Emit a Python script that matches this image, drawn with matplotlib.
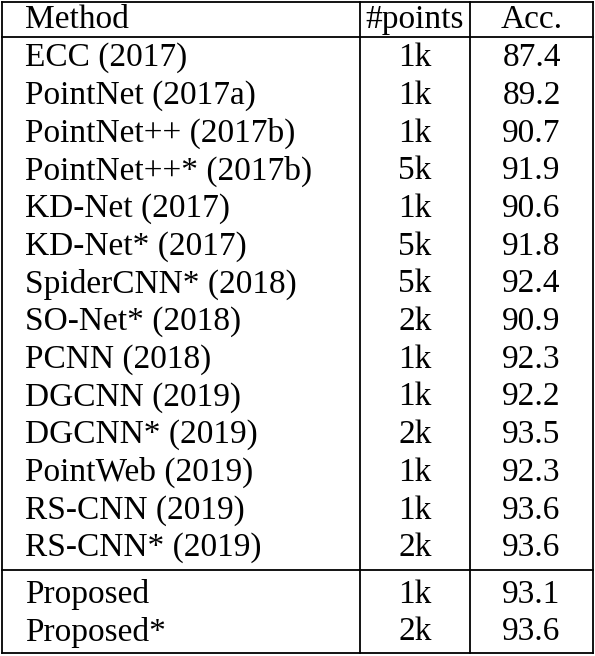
import matplotlib
matplotlib.use("Agg")
import matplotlib.pyplot as plt

methods = ["ECC (2017)", "PointNet (2017a)", "PointNet++ (2017b)", "PointNet++* (2017b)",
           "KD-Net (2017)", "KD-Net* (2017)", "SpiderCNN* (2018)", "SO-Net* (2018)",
           "PCNN (2018)", "DGCNN (2019)", "DGCNN* (2019)", "PointWeb (2019)",
           "RS-CNN (2019)", "RS-CNN* (2019)", "Proposed", "Proposed*"]
points = ["1k", "1k", "1k", "5k", "1k", "5k", "5k", "2k", "1k", "1k", "2k", "1k", "1k", "2k", "1k", "2k"]
acc = ["87.4", "89.2", "90.7", "91.9", "90.6", "91.8", "92.4", "90.9", "92.3", "92.2", "93.5",
       "92.3", "93.6", "93.6", "93.1", "93.6"]
headers = ["Method", "#points", "Acc."]

fig = plt.figure(figsize=(5.95, 6.56), dpi=100)
ax = fig.add_axes([0, 0, 1, 1])
ax.set_xlim(0, 595); ax.set_ylim(656, 0); ax.axis("off")
font = dict(family="Liberation Serif", fontsize=24, color="black", va="center")

xl, x1, x2, xr = 2, 360, 470, 593
ytop, yhead, ysep, ybot = 2, 37, 570, 653
lw = 1.3
for y in (ytop, yhead, ysep, ybot):
    ax.plot([xl, xr], [y, y], color="black", lw=lw)
for x in (xl, x1, x2, xr):
    ax.plot([x, x], [ytop, ybot], color="black", lw=lw)

ax.text(25, 20, headers[0], ha="left", **font)
ax.text((x1 + x2) / 2, 20, headers[1], ha="center", **font)
ax.text((x2 + xr) / 2, 20, headers[2], ha="center", **font)

step = (548 - 58) / 13
for i, (m, p, a) in enumerate(zip(methods, points, acc)):
    y = 58 + i * step if i < 14 else 595 + (i - 14) * 37
    ax.text(25, y, m, ha="left", **font)
    ax.text((x1 + x2) / 2, y, p, ha="center", **font)
    ax.text((x2 + xr) / 2, y, a, ha="center", **font)

fig.savefig("out.png", dpi=100)
